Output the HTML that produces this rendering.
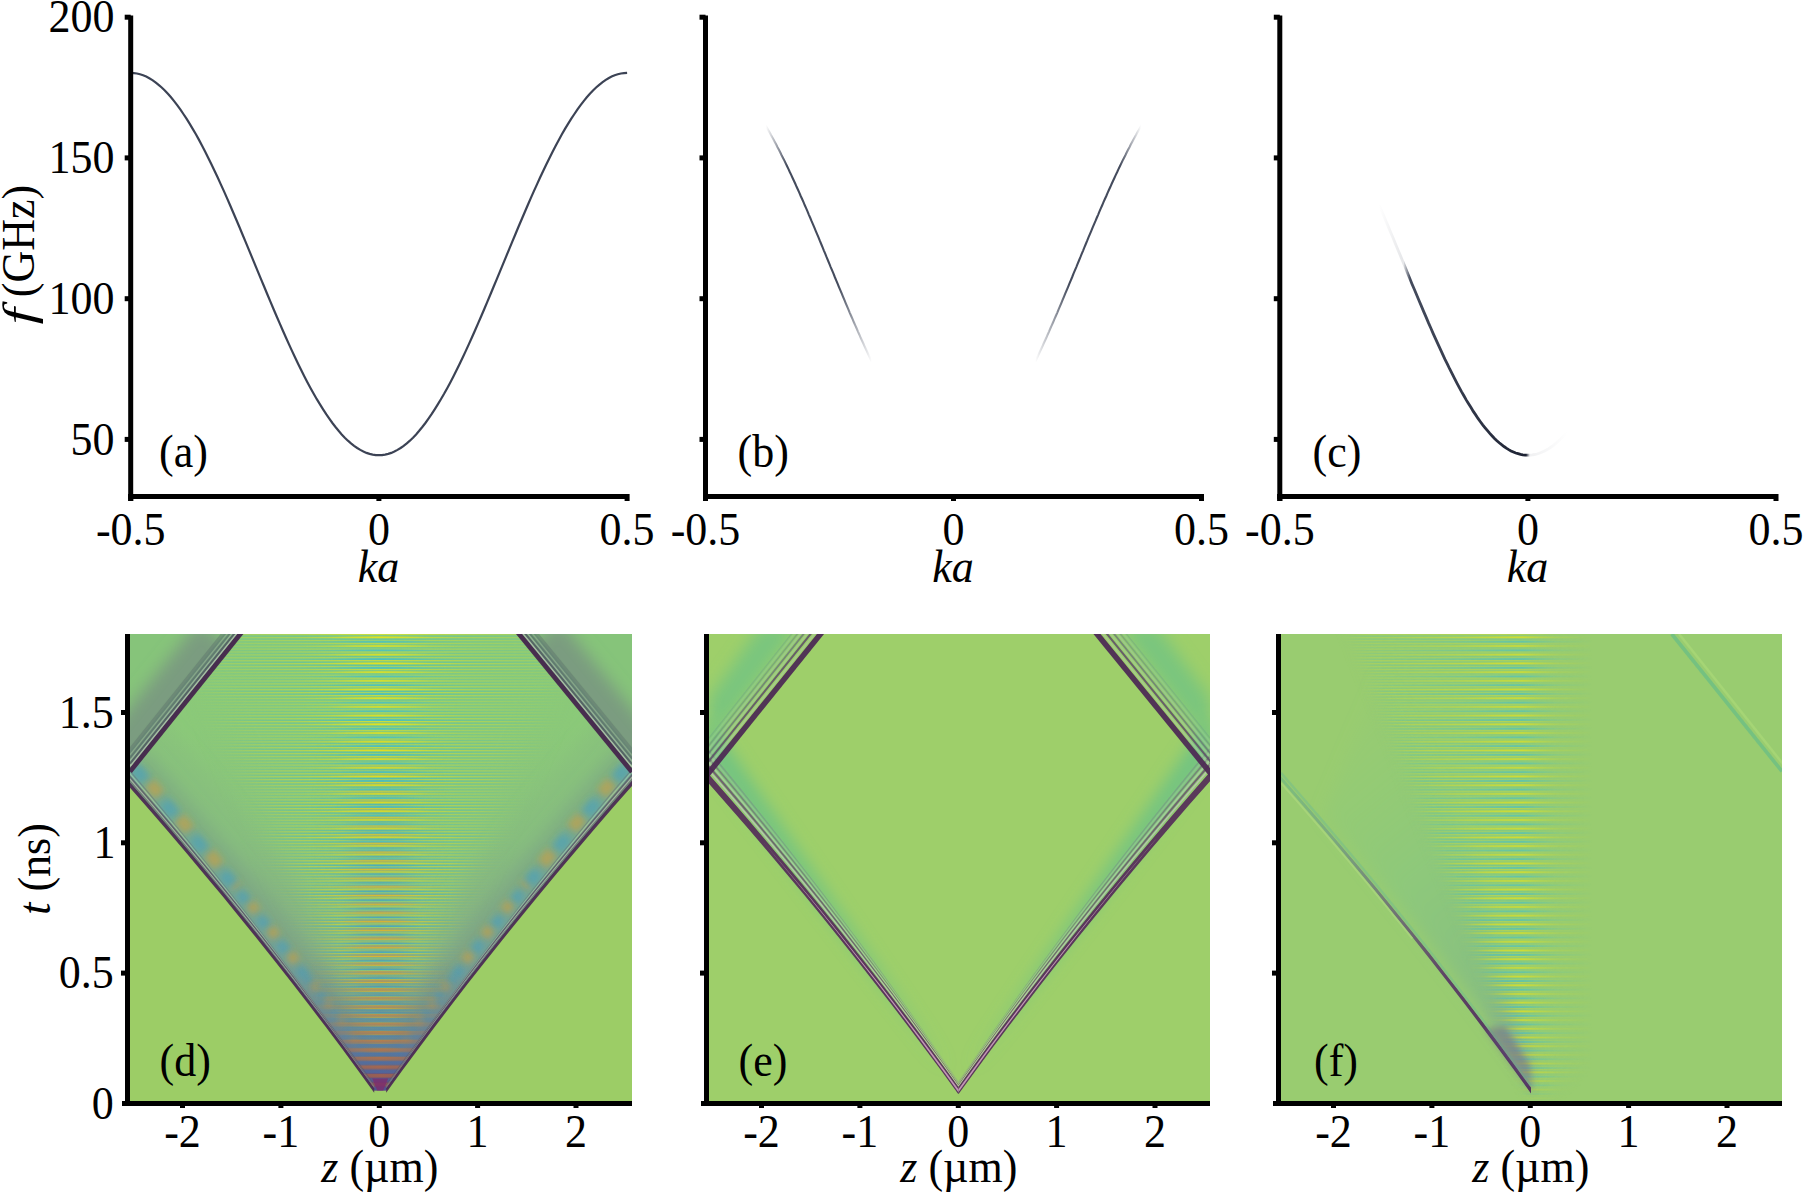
<!DOCTYPE html>
<html><head><meta charset="utf-8"><title>Figure</title>
<style>html,body{margin:0;padding:0;background:#fff}svg{display:block}</style></head>
<body>
<svg width="1804" height="1194" viewBox="0 0 1804 1194">
<defs>
<linearGradient id="gbL" gradientUnits="userSpaceOnUse" x1="766.0" y1="0.0" x2="871.7" y2="0.0"><stop offset="0" stop-color="#2b3347" stop-opacity="0"/><stop offset="0.2" stop-color="#2b3347" stop-opacity="0.88"/><stop offset="0.68" stop-color="#2b3347" stop-opacity="0.88"/><stop offset="1" stop-color="#2b3347" stop-opacity="0"/></linearGradient>
<linearGradient id="gbR" gradientUnits="userSpaceOnUse" x1="1141.0" y1="0.0" x2="1035.3" y2="0.0"><stop offset="0" stop-color="#2b3347" stop-opacity="0"/><stop offset="0.2" stop-color="#2b3347" stop-opacity="0.88"/><stop offset="0.68" stop-color="#2b3347" stop-opacity="0.88"/><stop offset="1" stop-color="#2b3347" stop-opacity="0"/></linearGradient>
<linearGradient id="gc" gradientUnits="userSpaceOnUse" x1="1379.0" y1="0.0" x2="1567.6" y2="0.0"><stop offset="0" stop-color="#2b3347" stop-opacity="0"/><stop offset="0.13" stop-color="#2b3347" stop-opacity="0.12"/><stop offset="0.165" stop-color="#2b3347" stop-opacity="0.88"/><stop offset="0.78" stop-color="#1d2233" stop-opacity="1"/><stop offset="0.8" stop-color="#2b3347" stop-opacity="0.07"/><stop offset="1" stop-color="#2b3347" stop-opacity="0"/></linearGradient>
<pattern id="frf" patternUnits="userSpaceOnUse" x="0" y="634" width="20" height="2.9"><rect x="0" y="0" width="20" height="1.45" fill="#d9e22e"/><rect x="0" y="1.45" width="20" height="1.45" fill="#52c0ae"/></pattern>
<pattern id="frb" patternUnits="userSpaceOnUse" x="0" y="636" width="20" height="8.7"><rect x="0" y="0" width="20" height="2.2" fill="#f0e410"/><rect x="0" y="4.35" width="20" height="2.0" fill="#35bedc"/></pattern>
<pattern id="fro" patternUnits="userSpaceOnUse" x="0" y="635.5" width="20" height="8.6"><rect x="0" y="0" width="20" height="3.4" fill="#f08a20"/><rect x="0" y="4.3" width="20" height="3.4" fill="#2f8fd8"/></pattern>
<filter id="bl1" x="-30%" y="-30%" width="160%" height="160%"><feGaussianBlur stdDeviation="0.7"/></filter>
<filter id="bl3" x="-30%" y="-30%" width="160%" height="160%"><feGaussianBlur stdDeviation="3"/></filter>
<filter id="bl8" x="-30%" y="-30%" width="160%" height="160%"><feGaussianBlur stdDeviation="8"/></filter>
<filter id="bl14" x="-30%" y="-30%" width="160%" height="160%"><feGaussianBlur stdDeviation="14"/></filter>
<clipPath id="cd"><rect x="130" y="634" width="502" height="467"/></clipPath>
<clipPath id="cdcone"><polygon points="374.2,1090.5 358.4,1068.7 342.3,1046.9 326.0,1025.0 309.4,1003.2 292.6,981.4 275.5,959.6 258.2,937.8 240.6,915.9 222.8,894.1 204.7,872.3 186.4,850.5 167.9,828.7 149.1,806.8 130.0,785.0 130,634 632,634 632.0,783.2 612.8,805.2 593.9,827.1 575.2,849.1 556.8,871.0 538.6,893.0 520.6,914.9 503.0,936.9 485.5,958.8 468.3,980.8 451.4,1002.7 434.7,1024.7 418.3,1046.6 402.1,1068.6 386.2,1090.5"/></clipPath>
<clipPath id="cdTL"><polygon points="130,771.5 240.3,634 130,634"/></clipPath>
<clipPath id="cdTR"><polygon points="632,772.0 519.1,634 632,634"/></clipPath>
<linearGradient id="gdint" gradientUnits="userSpaceOnUse" x1="0" y1="1090.5" x2="0" y2="634"><stop offset="0" stop-color="#775580"/><stop offset="0.07" stop-color="#7b7488"/><stop offset="0.16" stop-color="#80968a"/><stop offset="0.32" stop-color="#86ae86"/><stop offset="0.55" stop-color="#89c27d"/><stop offset="0.8" stop-color="#8bc979"/><stop offset="1" stop-color="#8bca78"/></linearGradient>
<linearGradient id="gdh1" gradientUnits="userSpaceOnUse" x1="150.2" y1="0" x2="610.2" y2="0"><stop offset="0.000" stop-color="#fff" stop-opacity="0"/><stop offset="0.196" stop-color="#fff" stop-opacity="0.25"/><stop offset="0.326" stop-color="#fff" stop-opacity="0.45"/><stop offset="0.424" stop-color="#fff" stop-opacity="0.7"/><stop offset="0.500" stop-color="#fff" stop-opacity="0.85"/><stop offset="0.576" stop-color="#fff" stop-opacity="0.7"/><stop offset="0.674" stop-color="#fff" stop-opacity="0.45"/><stop offset="0.804" stop-color="#fff" stop-opacity="0.25"/><stop offset="1.000" stop-color="#fff" stop-opacity="0"/></linearGradient>
<linearGradient id="gdh2" gradientUnits="userSpaceOnUse" x1="300.2" y1="0" x2="460.2" y2="0"><stop offset="0.000" stop-color="#fff" stop-opacity="0"/><stop offset="0.188" stop-color="#fff" stop-opacity="0.12"/><stop offset="0.344" stop-color="#fff" stop-opacity="0.42"/><stop offset="0.500" stop-color="#fff" stop-opacity="0.62"/><stop offset="0.656" stop-color="#fff" stop-opacity="0.42"/><stop offset="0.812" stop-color="#fff" stop-opacity="0.12"/><stop offset="1.000" stop-color="#fff" stop-opacity="0"/></linearGradient>
<linearGradient id="gdh3" gradientUnits="userSpaceOnUse" x1="310.2" y1="0" x2="450.2" y2="0"><stop offset="0.000" stop-color="#fff" stop-opacity="0"/><stop offset="0.214" stop-color="#fff" stop-opacity="0.25"/><stop offset="0.371" stop-color="#fff" stop-opacity="0.8"/><stop offset="0.500" stop-color="#fff" stop-opacity="1"/><stop offset="0.629" stop-color="#fff" stop-opacity="0.8"/><stop offset="0.786" stop-color="#fff" stop-opacity="0.25"/><stop offset="1.000" stop-color="#fff" stop-opacity="0"/></linearGradient>
<mask id="mdh1" maskUnits="userSpaceOnUse" x="130" y="634" width="502" height="467"><rect x="130" y="634" width="502" height="467" fill="url(#gdh1)"/></mask>
<mask id="mdh2" maskUnits="userSpaceOnUse" x="130" y="634" width="502" height="467"><rect x="130" y="634" width="502" height="467" fill="url(#gdh2)"/></mask>
<mask id="mdh3" maskUnits="userSpaceOnUse" x="130" y="634" width="502" height="467"><rect x="130" y="634" width="502" height="467" fill="url(#gdh3)"/></mask>
<mask id="mdw" maskUnits="userSpaceOnUse" x="130" y="634" width="502" height="467"><polygon points="374.2,1060.5 165.2,604 595.2,604 386.2,1060.5" fill="#fff" filter="url(#bl14)"/></mask>
<linearGradient id="gdo" gradientUnits="userSpaceOnUse" x1="0" y1="1090.5" x2="0" y2="730.5"><stop offset="0" stop-color="#fff" stop-opacity="0.85"/><stop offset="0.45" stop-color="#fff" stop-opacity="0.5"/><stop offset="1" stop-color="#fff" stop-opacity="0"/></linearGradient>
<mask id="mdo" maskUnits="userSpaceOnUse" x="130" y="634" width="502" height="467"><rect x="130" y="634" width="502" height="467" fill="url(#gdo)"/></mask>
<linearGradient id="gdap" gradientUnits="userSpaceOnUse" x1="0" y1="1090.5" x2="0" y2="960.5"><stop offset="0" stop-color="#5c3468" stop-opacity="0.6"/><stop offset="0.35" stop-color="#6a5078" stop-opacity="0.35"/><stop offset="1" stop-color="#70708a" stop-opacity="0"/></linearGradient>
<clipPath id="ce"><rect x="709" y="634" width="501" height="467"/></clipPath>
<clipPath id="cf"><rect x="1281" y="634" width="501" height="467"/></clipPath>
<linearGradient id="gfl" gradientUnits="userSpaceOnUse" x1="1531.0" y1="1090.5" x2="1281" y2="778.4"><stop offset="0" stop-color="#50305a" stop-opacity="1"/><stop offset="0.35" stop-color="#5a3c64" stop-opacity="0.95"/><stop offset="0.6" stop-color="#6a6a78" stop-opacity="0.8"/><stop offset="0.8" stop-color="#6e9a84" stop-opacity="0.7"/><stop offset="1" stop-color="#70b884" stop-opacity="0.65"/></linearGradient>
<linearGradient id="gfh" gradientUnits="userSpaceOnUse" x1="1531.0" y1="1090.5" x2="1281" y2="778.4"><stop offset="0" stop-color="#7a7aa0" stop-opacity="0.7"/><stop offset="0.25" stop-color="#7ab48c" stop-opacity="0.6"/><stop offset="0.6" stop-color="#80c488" stop-opacity="0.45"/><stop offset="1" stop-color="#86c880" stop-opacity="0.1"/></linearGradient>
<linearGradient id="gff1" gradientUnits="userSpaceOnUse" x1="1251.0" y1="0" x2="1586.0" y2="0"><stop offset="0.000" stop-color="#fff" stop-opacity="0"/><stop offset="0.299" stop-color="#fff" stop-opacity="0.2"/><stop offset="0.657" stop-color="#fff" stop-opacity="0.36"/><stop offset="0.800" stop-color="#fff" stop-opacity="0.4"/><stop offset="0.851" stop-color="#fff" stop-opacity="0.2"/><stop offset="0.910" stop-color="#fff" stop-opacity="0.08"/><stop offset="1.000" stop-color="#fff" stop-opacity="0"/></linearGradient>
<linearGradient id="gff2" gradientUnits="userSpaceOnUse" x1="1381.0" y1="0" x2="1593.0" y2="0"><stop offset="0.000" stop-color="#fff" stop-opacity="0"/><stop offset="0.377" stop-color="#fff" stop-opacity="0.2"/><stop offset="0.604" stop-color="#fff" stop-opacity="0.45"/><stop offset="0.670" stop-color="#fff" stop-opacity="0.5"/><stop offset="0.736" stop-color="#fff" stop-opacity="0.3"/><stop offset="0.830" stop-color="#fff" stop-opacity="0.12"/><stop offset="1.000" stop-color="#fff" stop-opacity="0"/></linearGradient>
<mask id="mff1" maskUnits="userSpaceOnUse" x="1281" y="634" width="501" height="467"><rect x="1281" y="634" width="501" height="467" fill="url(#gff1)"/></mask>
<mask id="mff2" maskUnits="userSpaceOnUse" x="1281" y="634" width="501" height="467"><rect x="1281" y="634" width="501" height="467" fill="url(#gff2)"/></mask>
<mask id="mfw" maskUnits="userSpaceOnUse" x="1281" y="634" width="501" height="467"><polygon points="1537.0,1096.5 1341.0,604 1651.0,604 1651.0,1030.5" fill="#fff" filter="url(#bl8)"/></mask>
</defs>
<rect width="1804" height="1194" fill="#fff"/>
<path d="M130.7,72.9 L133.8,73.1 L136.9,73.5 L140.0,74.3 L143.1,75.3 L146.2,76.6 L149.3,78.2 L152.4,80.1 L155.5,82.3 L158.6,84.8 L161.7,87.5 L164.8,90.5 L167.9,93.8 L171.0,97.3 L174.1,101.1 L177.2,105.1 L180.3,109.4 L183.4,114.0 L186.5,118.7 L189.6,123.7 L192.7,128.9 L195.9,134.3 L199.0,139.9 L202.1,145.7 L205.2,151.7 L208.3,157.9 L211.4,164.2 L214.5,170.7 L217.6,177.3 L220.7,184.1 L223.8,190.9 L226.9,197.9 L230.0,205.0 L233.1,212.2 L236.2,219.5 L239.3,226.8 L242.4,234.2 L245.5,241.6 L248.6,249.1 L251.7,256.6 L254.8,264.1 L257.9,271.6 L261.0,279.1 L264.1,286.5 L267.2,294.0 L270.3,301.4 L273.4,308.7 L276.5,316.0 L279.6,323.1 L282.7,330.2 L285.8,337.2 L288.9,344.1 L292.0,350.9 L295.1,357.5 L298.2,363.9 L301.3,370.3 L304.4,376.4 L307.5,382.4 L310.6,388.2 L313.7,393.8 L316.8,399.2 L320.0,404.4 L323.1,409.4 L326.2,414.2 L329.3,418.7 L332.4,423.0 L335.5,427.0 L338.6,430.8 L341.7,434.4 L344.8,437.7 L347.9,440.7 L351.0,443.4 L354.1,445.9 L357.2,448.0 L360.3,449.9 L363.4,451.5 L366.5,452.9 L369.6,453.9 L372.7,454.6 L375.8,455.1 L378.9,455.2 L382.0,455.1 L385.1,454.6 L388.2,453.9 L391.3,452.9 L394.4,451.5 L397.5,449.9 L400.6,448.0 L403.7,445.9 L406.8,443.4 L409.9,440.7 L413.0,437.7 L416.1,434.4 L419.2,430.8 L422.3,427.0 L425.4,423.0 L428.5,418.7 L431.6,414.2 L434.7,409.4 L437.8,404.4 L440.9,399.2 L444.1,393.8 L447.2,388.2 L450.3,382.4 L453.4,376.4 L456.5,370.3 L459.6,363.9 L462.7,357.5 L465.8,350.9 L468.9,344.1 L472.0,337.2 L475.1,330.2 L478.2,323.1 L481.3,316.0 L484.4,308.7 L487.5,301.4 L490.6,294.0 L493.7,286.5 L496.8,279.1 L499.9,271.6 L503.0,264.1 L506.1,256.6 L509.2,249.1 L512.3,241.6 L515.4,234.2 L518.5,226.8 L521.6,219.5 L524.7,212.2 L527.8,205.0 L530.9,197.9 L534.0,190.9 L537.1,184.1 L540.2,177.3 L543.3,170.7 L546.4,164.2 L549.5,157.9 L552.6,151.7 L555.7,145.7 L558.8,139.9 L561.9,134.3 L565.0,128.9 L568.2,123.7 L571.3,118.7 L574.4,114.0 L577.5,109.4 L580.6,105.1 L583.7,101.1 L586.8,97.3 L589.9,93.8 L593.0,90.5 L596.1,87.5 L599.2,84.8 L602.3,82.3 L605.4,80.1 L608.5,78.2 L611.6,76.6 L614.7,75.3 L617.8,74.3 L620.9,73.5 L624.0,73.1 L627.1,72.9" fill="none" stroke="#2b3347" stroke-width="2.2" stroke-opacity="0.92"/>
<path d="M762.5,120.7 L763.9,122.9 L765.3,125.2 L766.6,127.4 L768.0,129.8 L769.4,132.1 L770.7,134.6 L772.1,137.0 L773.5,139.5 L774.8,142.0 L776.2,144.6 L777.5,147.2 L778.9,149.8 L780.3,152.5 L781.6,155.2 L783.0,157.9 L784.4,160.6 L785.7,163.4 L787.1,166.3 L788.5,169.1 L789.8,172.0 L791.2,174.9 L792.5,177.8 L793.9,180.8 L795.3,183.8 L796.6,186.8 L798.0,189.8 L799.4,192.9 L800.7,196.0 L802.1,199.0 L803.5,202.2 L804.8,205.3 L806.2,208.4 L807.6,211.6 L808.9,214.8 L810.3,218.0 L811.6,221.2 L813.0,224.4 L814.4,227.7 L815.7,230.9 L817.1,234.2 L818.5,237.4 L819.8,240.7 L821.2,244.0 L822.6,247.3 L823.9,250.6 L825.3,253.9 L826.6,257.2 L828.0,260.5 L829.4,263.8 L830.7,267.1 L832.1,270.4 L833.5,273.7 L834.8,277.0 L836.2,280.3 L837.6,283.6 L838.9,286.8 L840.3,290.1 L841.7,293.4 L843.0,296.6 L844.4,299.9 L845.7,303.1 L847.1,306.4 L848.5,309.6 L849.8,312.8 L851.2,316.0 L852.6,319.1 L853.9,322.3 L855.3,325.4 L856.7,328.5 L858.0,331.6 L859.4,334.7 L860.7,337.8 L862.1,340.8 L863.5,343.8 L864.8,346.8 L866.2,349.8 L867.6,352.7 L868.9,355.6 L870.3,358.5 L871.7,361.4" fill="none" stroke="url(#gbL)" stroke-width="2.1"/>
<path d="M1035.3,361.4 L1036.7,358.5 L1038.1,355.6 L1039.4,352.7 L1040.8,349.8 L1042.2,346.8 L1043.5,343.8 L1044.9,340.8 L1046.3,337.8 L1047.6,334.7 L1049.0,331.6 L1050.3,328.5 L1051.7,325.4 L1053.1,322.3 L1054.4,319.1 L1055.8,316.0 L1057.2,312.8 L1058.5,309.6 L1059.9,306.4 L1061.3,303.1 L1062.6,299.9 L1064.0,296.6 L1065.3,293.4 L1066.7,290.1 L1068.1,286.8 L1069.4,283.6 L1070.8,280.3 L1072.2,277.0 L1073.5,273.7 L1074.9,270.4 L1076.3,267.1 L1077.6,263.8 L1079.0,260.5 L1080.4,257.2 L1081.7,253.9 L1083.1,250.6 L1084.4,247.3 L1085.8,244.0 L1087.2,240.7 L1088.5,237.4 L1089.9,234.2 L1091.3,230.9 L1092.6,227.7 L1094.0,224.4 L1095.4,221.2 L1096.7,218.0 L1098.1,214.8 L1099.4,211.6 L1100.8,208.4 L1102.2,205.3 L1103.5,202.2 L1104.9,199.0 L1106.3,196.0 L1107.6,192.9 L1109.0,189.8 L1110.4,186.8 L1111.7,183.8 L1113.1,180.8 L1114.5,177.8 L1115.8,174.9 L1117.2,172.0 L1118.5,169.1 L1119.9,166.3 L1121.3,163.4 L1122.6,160.6 L1124.0,157.9 L1125.4,155.2 L1126.7,152.5 L1128.1,149.8 L1129.5,147.2 L1130.8,144.6 L1132.2,142.0 L1133.5,139.5 L1134.9,137.0 L1136.3,134.6 L1137.6,132.1 L1139.0,129.8 L1140.4,127.4 L1141.7,125.2 L1143.1,122.9 L1144.5,120.7" fill="none" stroke="url(#gbR)" stroke-width="2.1"/>
<path d="M1379.0,205.0 L1381.4,210.5 L1383.8,216.0 L1386.1,221.5 L1388.5,227.1 L1390.8,232.7 L1393.2,238.3 L1395.5,244.0 L1397.9,249.7 L1400.3,255.4 L1402.6,261.1 L1405.0,266.8 L1407.3,272.5 L1409.7,278.2 L1412.0,283.9 L1414.4,289.5 L1416.8,295.2 L1419.1,300.8 L1421.5,306.4 L1423.8,311.9 L1426.2,317.4 L1428.5,322.9 L1430.9,328.3 L1433.2,333.6 L1435.6,338.9 L1438.0,344.1 L1440.3,349.2 L1442.7,354.3 L1445.0,359.3 L1447.4,364.2 L1449.7,369.0 L1452.1,373.7 L1454.5,378.4 L1456.8,382.9 L1459.2,387.3 L1461.5,391.6 L1463.9,395.8 L1466.2,399.9 L1468.6,403.8 L1471.0,407.6 L1473.3,411.4 L1475.7,414.9 L1478.0,418.4 L1480.4,421.7 L1482.7,424.8 L1485.1,427.8 L1487.5,430.7 L1489.8,433.4 L1492.2,436.0 L1494.5,438.4 L1496.9,440.7 L1499.2,442.8 L1501.6,444.7 L1504.0,446.5 L1506.3,448.1 L1508.7,449.6 L1511.0,450.9 L1513.4,452.0 L1515.7,453.0 L1518.1,453.7 L1520.5,454.4 L1522.8,454.8 L1525.2,455.1 L1527.5,455.2 L1529.9,455.2 L1532.2,454.9 L1534.6,454.5 L1537.0,454.0 L1539.3,453.2 L1541.7,452.3 L1544.0,451.2 L1546.4,450.0 L1548.7,448.6 L1551.1,447.0 L1553.5,445.3 L1555.8,443.4 L1558.2,441.3 L1560.5,439.1 L1562.9,436.8 L1565.2,434.2 L1567.6,431.6" fill="none" stroke="url(#gc)" stroke-width="2.8"/>
<rect x="128.2" y="15.5" width="5" height="485.5" fill="#000"/>
<rect x="128.2" y="494" width="498.9" height="5" fill="#000"/>
<rect x="124.7" y="14.7" width="6" height="5" fill="#000"/>
<rect x="124.7" y="155.4" width="6" height="5" fill="#000"/>
<rect x="124.7" y="296.2" width="6" height="5" fill="#000"/>
<rect x="124.7" y="436.9" width="6" height="5" fill="#000"/>
<rect x="128.2" y="494" width="5" height="7" fill="#000"/>
<rect x="376.4" y="494" width="5" height="7" fill="#000"/>
<rect x="624.6" y="494" width="5" height="7" fill="#000"/>
<text transform="translate(130.7,545) scale(1,1.04)" x="0" y="0" text-anchor="middle" font-family="'Liberation Serif', 'Times New Roman', serif" font-size="44">-0.5</text>
<text transform="translate(378.9,545) scale(1,1.04)" x="0" y="0" text-anchor="middle" font-family="'Liberation Serif', 'Times New Roman', serif" font-size="44">0</text>
<text transform="translate(627.1,545) scale(1,1.04)" x="0" y="0" text-anchor="middle" font-family="'Liberation Serif', 'Times New Roman', serif" font-size="44">0.5</text>
<text transform="translate(378.4,581.5) scale(1,1.04)" x="0" y="0" text-anchor="middle" font-family="'Liberation Serif', 'Times New Roman', serif" font-size="44" font-style="italic">ka</text>
<text transform="translate(159,467) scale(1,1.04)" x="0" y="0" font-family="'Liberation Serif', 'Times New Roman', serif" font-size="44">(a)</text>
<rect x="703.0" y="15.5" width="5" height="485.5" fill="#000"/>
<rect x="703.0" y="494" width="498.5" height="5" fill="#000"/>
<rect x="699.5" y="14.7" width="6" height="5" fill="#000"/>
<rect x="699.5" y="155.4" width="6" height="5" fill="#000"/>
<rect x="699.5" y="296.2" width="6" height="5" fill="#000"/>
<rect x="699.5" y="436.9" width="6" height="5" fill="#000"/>
<rect x="703.0" y="494" width="5" height="7" fill="#000"/>
<rect x="951.0" y="494" width="5" height="7" fill="#000"/>
<rect x="1199.0" y="494" width="5" height="7" fill="#000"/>
<text transform="translate(705.5,545) scale(1,1.04)" x="0" y="0" text-anchor="middle" font-family="'Liberation Serif', 'Times New Roman', serif" font-size="44">-0.5</text>
<text transform="translate(953.5,545) scale(1,1.04)" x="0" y="0" text-anchor="middle" font-family="'Liberation Serif', 'Times New Roman', serif" font-size="44">0</text>
<text transform="translate(1201.5,545) scale(1,1.04)" x="0" y="0" text-anchor="middle" font-family="'Liberation Serif', 'Times New Roman', serif" font-size="44">0.5</text>
<text transform="translate(953.0,581.5) scale(1,1.04)" x="0" y="0" text-anchor="middle" font-family="'Liberation Serif', 'Times New Roman', serif" font-size="44" font-style="italic">ka</text>
<text transform="translate(737.5,467) scale(1,1.04)" x="0" y="0" font-family="'Liberation Serif', 'Times New Roman', serif" font-size="44">(b)</text>
<rect x="1277.3" y="15.5" width="5" height="485.5" fill="#000"/>
<rect x="1277.3" y="494" width="498.7" height="5" fill="#000"/>
<rect x="1273.8" y="14.7" width="6" height="5" fill="#000"/>
<rect x="1273.8" y="155.4" width="6" height="5" fill="#000"/>
<rect x="1273.8" y="296.2" width="6" height="5" fill="#000"/>
<rect x="1273.8" y="436.9" width="6" height="5" fill="#000"/>
<rect x="1277.3" y="494" width="5" height="7" fill="#000"/>
<rect x="1525.4" y="494" width="5" height="7" fill="#000"/>
<rect x="1773.5" y="494" width="5" height="7" fill="#000"/>
<text transform="translate(1279.8,545) scale(1,1.04)" x="0" y="0" text-anchor="middle" font-family="'Liberation Serif', 'Times New Roman', serif" font-size="44">-0.5</text>
<text transform="translate(1527.9,545) scale(1,1.04)" x="0" y="0" text-anchor="middle" font-family="'Liberation Serif', 'Times New Roman', serif" font-size="44">0</text>
<text transform="translate(1776.0,545) scale(1,1.04)" x="0" y="0" text-anchor="middle" font-family="'Liberation Serif', 'Times New Roman', serif" font-size="44">0.5</text>
<text transform="translate(1527.4,581.5) scale(1,1.04)" x="0" y="0" text-anchor="middle" font-family="'Liberation Serif', 'Times New Roman', serif" font-size="44" font-style="italic">ka</text>
<text transform="translate(1312.5,467) scale(1,1.04)" x="0" y="0" font-family="'Liberation Serif', 'Times New Roman', serif" font-size="44">(c)</text>
<text transform="translate(114.5,32.4) scale(1,1.04)" x="0" y="0" text-anchor="end" font-family="'Liberation Serif', 'Times New Roman', serif" font-size="44">200</text>
<text transform="translate(114.5,173.1) scale(1,1.04)" x="0" y="0" text-anchor="end" font-family="'Liberation Serif', 'Times New Roman', serif" font-size="44">150</text>
<text transform="translate(114.5,313.9) scale(1,1.04)" x="0" y="0" text-anchor="end" font-family="'Liberation Serif', 'Times New Roman', serif" font-size="44">100</text>
<text transform="translate(114.5,454.6) scale(1,1.04)" x="0" y="0" text-anchor="end" font-family="'Liberation Serif', 'Times New Roman', serif" font-size="44">50</text>
<text transform="translate(33.5,324.6) rotate(-90) scale(1.35,1)" font-family="'Liberation Serif', 'Times New Roman', serif" font-size="44" font-style="italic">f</text>
<text transform="translate(33.5,297.2) rotate(-90) scale(1,1.04)" font-family="'Liberation Serif', 'Times New Roman', serif" font-size="44">(GHz)</text>
<rect x="130" y="634" width="502" height="467" fill="#9ccd66"/>
<rect x="709" y="634" width="501" height="467" fill="#9ecf6a"/>
<rect x="1281" y="634" width="501" height="467" fill="#99cc70"/>
<g clip-path="url(#cd)">
<polygon points="374.2,1090.5 358.4,1068.7 342.3,1046.9 326.0,1025.0 309.4,1003.2 292.6,981.4 275.5,959.6 258.2,937.8 240.6,915.9 222.8,894.1 204.7,872.3 186.4,850.5 167.9,828.7 149.1,806.8 130.0,785.0 130,634 632,634 632.0,783.2 612.8,805.2 593.9,827.1 575.2,849.1 556.8,871.0 538.6,893.0 520.6,914.9 503.0,936.9 485.5,958.8 468.3,980.8 451.4,1002.7 434.7,1024.7 418.3,1046.6 402.1,1068.6 386.2,1090.5" fill="url(#gdint)" fill-opacity="1" />
<g clip-path="url(#cdcone)">
<path d="M374.2,1068.5 L358.4,1046.7 L342.3,1024.9 L326.0,1003.0 L309.4,981.2 L292.6,959.4 L275.5,937.6 L258.2,915.8 L240.6,893.9 L222.8,872.1 L204.7,850.3 L186.4,828.5 L167.9,806.7 L149.1,784.8 L130.0,763.0" fill="none" stroke="#6f8f8a" stroke-opacity="0.42" stroke-width="40" filter="url(#bl8)"/>
<path d="M374.2,1034.5 L358.4,1012.7 L342.3,990.9 L326.0,969.0 L309.4,947.2 L292.6,925.4 L275.5,903.6 L258.2,881.8 L240.6,859.9 L222.8,838.1 L204.7,816.3 L186.4,794.5 L167.9,772.7 L149.1,750.8 L130.0,729.0" fill="none" stroke="#7fb080" stroke-opacity="0.25" stroke-width="60" filter="url(#bl8)"/>
<path d="M365.4,1064.3 L350.0,1042.9 L334.5,1021.5 L318.7,1000.2 L302.7,978.8 L286.4,957.4 L270.0,936.0 L253.3,914.7 L236.3,893.3 L219.2,871.9 L201.8,850.5 L184.2,829.2 L166.4,807.8 L148.3,786.4 L130.0,765.0" fill="none" stroke="#5a9cb4" stroke-opacity="0.3" stroke-width="16" filter="url(#bl3)"/>
<path d="M363.1,1053.2 L359.2,1047.8 L355.2,1042.3 L351.2,1036.9 L347.1,1031.4 L343.1,1026.0 L339.0,1020.5 L335.0,1015.0 L330.9,1009.6 L326.8,1004.1 L322.7,998.7 L318.5,993.2 L314.4,987.8 L310.2,982.3 L306.0,976.9" fill="none" stroke="#3fa0c4" stroke-opacity="0.48" stroke-width="7.6" stroke-dasharray="7.5 14.5" filter="url(#bl3)"/>
<path d="M363.1,1051.2 L359.2,1045.8 L355.2,1040.3 L351.2,1034.9 L347.1,1029.4 L343.1,1024.0 L339.0,1018.5 L335.0,1013.0 L330.9,1007.6 L326.8,1002.1 L322.7,996.7 L318.5,991.2 L314.4,985.8 L310.2,980.3 L306.0,974.9" fill="none" stroke="#e3a02c" stroke-opacity="0.5" stroke-width="7.6" stroke-dasharray="7.5 14.5" stroke-dashoffset="-11.0" filter="url(#bl3)"/>
<path d="M306.0,976.9 L301.0,970.3 L295.9,963.8 L290.9,957.2 L285.8,950.7 L280.6,944.1 L275.5,937.6 L270.3,931.0 L265.1,924.5 L259.9,917.9 L254.7,911.4 L249.4,904.9 L244.1,898.3 L238.8,891.8 L233.5,885.2" fill="none" stroke="#3fa0c4" stroke-opacity="0.48" stroke-width="10.2" stroke-dasharray="10.9 21.1" filter="url(#bl3)"/>
<path d="M306.0,974.9 L301.0,968.3 L295.9,961.8 L290.9,955.2 L285.8,948.7 L280.6,942.1 L275.5,935.6 L270.3,929.0 L265.1,922.5 L259.9,915.9 L254.7,909.4 L249.4,902.9 L244.1,896.3 L238.8,889.8 L233.5,883.2" fill="none" stroke="#e3a02c" stroke-opacity="0.5" stroke-width="10.2" stroke-dasharray="10.9 21.1" stroke-dashoffset="-16.0" filter="url(#bl3)"/>
<path d="M233.5,885.2 L226.4,876.5 L219.2,867.8 L212.0,859.0 L204.7,850.3 L197.4,841.6 L190.1,832.9 L182.7,824.1 L175.3,815.4 L167.9,806.7 L160.4,797.9 L152.8,789.2 L145.3,780.5 L137.7,771.8 L130.0,763.0" fill="none" stroke="#3fa0c4" stroke-opacity="0.48" stroke-width="12.8" stroke-dasharray="15.6 30.4" filter="url(#bl3)"/>
<path d="M233.5,883.2 L226.4,874.5 L219.2,865.8 L212.0,857.0 L204.7,848.3 L197.4,839.6 L190.1,830.9 L182.7,822.1 L175.3,813.4 L167.9,804.7 L160.4,795.9 L152.8,787.2 L145.3,778.5 L137.7,769.8 L130.0,761.0" fill="none" stroke="#e3a02c" stroke-opacity="0.5" stroke-width="12.8" stroke-dasharray="15.6 30.4" stroke-dashoffset="-23.0" filter="url(#bl3)"/>
<path d="M386.2,1068.5 L402.1,1046.6 L418.3,1024.6 L434.7,1002.7 L451.4,980.7 L468.3,958.8 L485.5,936.8 L503.0,914.9 L520.6,892.9 L538.6,871.0 L556.8,849.0 L575.2,827.1 L593.9,805.1 L612.8,783.2 L632.0,761.2" fill="none" stroke="#6f8f8a" stroke-opacity="0.42" stroke-width="40" filter="url(#bl8)"/>
<path d="M386.2,1034.5 L402.1,1012.6 L418.3,990.6 L434.7,968.7 L451.4,946.7 L468.3,924.8 L485.5,902.8 L503.0,880.9 L520.6,858.9 L538.6,837.0 L556.8,815.0 L575.2,793.1 L593.9,771.1 L612.8,749.2 L632.0,727.2" fill="none" stroke="#7fb080" stroke-opacity="0.25" stroke-width="60" filter="url(#bl8)"/>
<path d="M395.1,1064.2 L410.5,1042.7 L426.2,1021.2 L442.0,999.7 L458.2,978.2 L474.5,956.7 L491.1,935.2 L507.9,913.7 L524.9,892.2 L542.2,870.7 L559.7,849.2 L577.4,827.7 L595.4,806.2 L613.6,784.7 L632.0,763.2" fill="none" stroke="#5a9cb4" stroke-opacity="0.3" stroke-width="16" filter="url(#bl3)"/>
<path d="M397.3,1053.1 L401.3,1047.6 L405.3,1042.2 L409.4,1036.7 L413.4,1031.2 L417.5,1025.7 L421.6,1020.2 L425.7,1014.7 L429.8,1009.2 L433.9,1003.7 L438.1,998.3 L442.2,992.8 L446.4,987.3 L450.6,981.8 L454.8,976.3" fill="none" stroke="#3fa0c4" stroke-opacity="0.48" stroke-width="7.6" stroke-dasharray="7.5 14.5" filter="url(#bl3)"/>
<path d="M397.3,1051.1 L401.3,1045.6 L405.3,1040.2 L409.4,1034.7 L413.4,1029.2 L417.5,1023.7 L421.6,1018.2 L425.7,1012.7 L429.8,1007.2 L433.9,1001.7 L438.1,996.3 L442.2,990.8 L446.4,985.3 L450.6,979.8 L454.8,974.3" fill="none" stroke="#e3a02c" stroke-opacity="0.5" stroke-width="7.6" stroke-dasharray="7.5 14.5" stroke-dashoffset="-11.0" filter="url(#bl3)"/>
<path d="M454.8,976.3 L459.9,969.7 L464.9,963.1 L470.1,956.6 L475.2,950.0 L480.3,943.4 L485.5,936.8 L490.7,930.2 L496.0,923.6 L501.2,917.0 L506.5,910.5 L511.8,903.9 L517.1,897.3 L522.4,890.7 L527.8,884.1" fill="none" stroke="#3fa0c4" stroke-opacity="0.48" stroke-width="10.2" stroke-dasharray="10.9 21.1" filter="url(#bl3)"/>
<path d="M454.8,974.3 L459.9,967.7 L464.9,961.1 L470.1,954.6 L475.2,948.0 L480.3,941.4 L485.5,934.8 L490.7,928.2 L496.0,921.6 L501.2,915.0 L506.5,908.5 L511.8,901.9 L517.1,895.3 L522.4,888.7 L527.8,882.1" fill="none" stroke="#e3a02c" stroke-opacity="0.5" stroke-width="10.2" stroke-dasharray="10.9 21.1" stroke-dashoffset="-16.0" filter="url(#bl3)"/>
<path d="M527.8,884.1 L535.0,875.3 L542.2,866.6 L549.5,857.8 L556.8,849.0 L564.1,840.2 L571.5,831.4 L578.9,822.7 L586.4,813.9 L593.9,805.1 L601.4,796.3 L609.0,787.5 L616.6,778.8 L624.3,770.0 L632.0,761.2" fill="none" stroke="#3fa0c4" stroke-opacity="0.48" stroke-width="12.8" stroke-dasharray="15.6 30.4" filter="url(#bl3)"/>
<path d="M527.8,882.1 L535.0,873.3 L542.2,864.6 L549.5,855.8 L556.8,847.0 L564.1,838.2 L571.5,829.4 L578.9,820.7 L586.4,811.9 L593.9,803.1 L601.4,794.3 L609.0,785.5 L616.6,776.8 L624.3,768.0 L632.0,759.2" fill="none" stroke="#e3a02c" stroke-opacity="0.5" stroke-width="12.8" stroke-dasharray="15.6 30.4" stroke-dashoffset="-23.0" filter="url(#bl3)"/>
<g mask="url(#mdw)"><g mask="url(#mdh1)"><rect x="130" y="634" width="502" height="467" fill="url(#frf)"/></g>
<g mask="url(#mdh2)"><rect x="130" y="634" width="502" height="467" fill="url(#frb)"/></g></g>
<g mask="url(#mdo)"><g mask="url(#mdh3)"><rect x="130" y="634" width="502" height="467" fill="url(#fro)" filter="url(#bl1)"/></g></g>
<rect x="260.2" y="960.5" width="240" height="131" fill="url(#gdap)"/>
</g>
<g clip-path="url(#cdTL)">
<rect x="130" y="634" width="502" height="467" fill="#86c47a"/>
<line x1="104" y1="771.5" x2="214.3" y2="634" stroke="#778f82" stroke-opacity="0.75" stroke-width="40" filter="url(#bl8)"/>
<line x1="128" y1="741.5" x2="128" y2="621.5" stroke="#6fb0a0" stroke-opacity="0.5" stroke-width="40" filter="url(#bl8)"/>
</g>
<g clip-path="url(#cdTR)">
<rect x="130" y="634" width="502" height="467" fill="#86c47a"/>
<line x1="658" y1="772.0" x2="545.1" y2="634" stroke="#778f82" stroke-opacity="0.75" stroke-width="40" filter="url(#bl8)"/>
<line x1="634" y1="742.0" x2="634" y2="622.0" stroke="#6fb0a0" stroke-opacity="0.5" stroke-width="40" filter="url(#bl8)"/>
</g>
<polygon points="374.2,1088.3 358.4,1066.4 342.3,1044.6 326.0,1022.7 309.4,1000.9 292.6,979.0 275.5,957.2 258.2,935.3 240.6,913.5 222.8,891.6 204.7,869.7 186.4,847.9 167.9,826.0 149.1,804.2 130.0,782.3 130.0,787.7 149.1,809.5 167.9,831.3 186.4,853.1 204.7,874.9 222.8,896.6 240.6,918.4 258.2,940.2 275.5,962.0 292.6,983.8 309.4,1005.6 326.0,1027.3 342.3,1049.1 358.4,1070.9 374.2,1092.7" fill="#4b2c54" fill-opacity="0.95" />
<polygon points="374.2,1084.0 358.4,1062.1 342.3,1040.1 326.0,1018.2 309.4,996.3 292.6,974.4 275.5,952.4 258.2,930.5 240.6,908.6 222.8,886.7 204.7,864.7 186.4,842.8 167.9,820.9 149.1,799.0 130.0,777.0 130.0,782.0 149.1,803.9 167.9,825.7 186.4,847.6 204.7,869.4 222.8,891.3 240.6,913.2 258.2,935.0 275.5,956.9 292.6,978.7 309.4,1000.6 326.0,1022.4 342.3,1044.3 358.4,1066.1 374.2,1088.0" fill="#5d5468" fill-opacity="0.5" />
<polygon points="374.2,1087.3 358.4,1065.2 342.3,1043.2 326.0,1021.1 309.4,999.0 292.6,977.0 275.5,954.9 258.2,932.8 240.6,910.7 222.8,888.7 204.7,866.6 186.4,844.5 167.9,822.5 149.1,800.4 130.0,778.3 130.0,780.1 149.1,802.1 167.9,824.1 186.4,846.0 204.7,868.0 222.8,890.0 240.6,911.9 258.2,933.9 275.5,955.9 292.6,977.9 309.4,999.8 326.0,1021.8 342.3,1043.8 358.4,1065.7 374.2,1087.7" fill="#c4d2b8" fill-opacity="0.65" />
<polygon points="374.2,1086.8 358.4,1064.6 342.3,1042.3 326.0,1020.1 309.4,997.9 292.6,975.7 275.5,953.4 258.2,931.2 240.6,909.0 222.8,886.8 204.7,864.5 186.4,842.3 167.9,820.1 149.1,797.9 130.0,775.6 130.0,777.6 149.1,799.7 167.9,821.9 186.4,844.0 204.7,866.1 222.8,888.2 240.6,910.3 258.2,932.4 275.5,954.5 292.6,976.6 309.4,998.8 326.0,1020.9 342.3,1043.0 358.4,1065.1 374.2,1087.2" fill="#585066" fill-opacity="0.75" />
<polygon points="374.2,1086.3 358.4,1064.0 342.3,1041.6 326.0,1019.2 309.4,996.8 292.6,974.4 275.5,952.0 258.2,929.6 240.6,907.2 222.8,884.8 204.7,862.4 186.4,840.1 167.9,817.7 149.1,795.3 130.0,772.9 130.0,774.4 149.1,796.7 167.9,819.0 186.4,841.3 204.7,863.6 222.8,885.9 240.6,908.2 258.2,930.5 275.5,952.8 292.6,975.1 309.4,997.4 326.0,1019.7 342.3,1042.0 358.4,1064.3 374.2,1086.7" fill="#b5cfae" fill-opacity="0.6" />
<polygon points="374.2,1085.8 358.4,1063.3 342.3,1040.8 326.0,1018.2 309.4,995.7 292.6,973.1 275.5,950.6 258.2,928.1 240.6,905.5 222.8,883.0 204.7,860.4 186.4,837.9 167.9,815.4 149.1,792.8 130.0,770.3 130.0,771.8 149.1,794.2 167.9,816.7 186.4,839.1 204.7,861.6 222.8,884.1 240.6,906.5 258.2,929.0 275.5,951.4 292.6,973.9 309.4,996.3 326.0,1018.8 342.3,1041.2 358.4,1063.7 374.2,1086.2" fill="#64707a" fill-opacity="0.55" />
<polygon points="386.2,1088.3 402.1,1066.3 418.3,1044.3 434.7,1022.3 451.4,1000.4 468.3,978.4 485.5,956.4 503.0,934.4 520.6,912.4 538.6,890.4 556.8,868.4 575.2,846.5 593.9,824.5 612.8,802.5 632.0,780.5 632.0,785.9 612.8,807.8 593.9,829.7 575.2,851.7 556.8,873.6 538.6,895.5 520.6,917.4 503.0,939.3 485.5,961.2 468.3,983.1 451.4,1005.0 434.7,1027.0 418.3,1048.9 402.1,1070.8 386.2,1092.7" fill="#4b2c54" fill-opacity="0.95" />
<polygon points="386.2,1084.0 402.1,1061.9 418.3,1039.9 434.7,1017.8 451.4,995.8 468.3,973.7 485.5,951.7 503.0,929.6 520.6,907.5 538.6,885.5 556.8,863.4 575.2,841.4 593.9,819.3 612.8,797.3 632.0,775.2 632.0,780.2 612.8,802.2 593.9,824.2 575.2,846.2 556.8,868.1 538.6,890.1 520.6,912.1 503.0,934.1 485.5,956.1 468.3,978.1 451.4,1000.1 434.7,1022.0 418.3,1044.0 402.1,1066.0 386.2,1088.0" fill="#5d5468" fill-opacity="0.5" />
<polygon points="386.2,1087.3 402.1,1065.1 418.3,1042.9 434.7,1020.7 451.4,998.5 468.3,976.3 485.5,954.1 503.0,931.9 520.6,909.7 538.6,887.5 556.8,865.3 575.2,843.1 593.9,820.9 612.8,798.7 632.0,776.5 632.0,778.3 612.8,800.4 593.9,822.5 575.2,844.6 556.8,866.7 538.6,888.8 520.6,910.9 503.0,933.0 485.5,955.1 468.3,977.2 451.4,999.3 434.7,1021.4 418.3,1043.5 402.1,1065.6 386.2,1087.7" fill="#c4d2b8" fill-opacity="0.65" />
<polygon points="386.2,1086.8 402.1,1064.4 418.3,1042.1 434.7,1019.7 451.4,997.4 468.3,975.0 485.5,952.7 503.0,930.3 520.6,907.9 538.6,885.6 556.8,863.2 575.2,840.9 593.9,818.5 612.8,796.2 632.0,773.8 632.0,775.8 612.8,798.1 593.9,820.3 575.2,842.5 556.8,864.8 538.6,887.0 520.6,909.3 503.0,931.5 485.5,953.7 468.3,976.0 451.4,998.2 434.7,1020.5 418.3,1042.7 402.1,1065.0 386.2,1087.2" fill="#585066" fill-opacity="0.75" />
<polygon points="386.2,1086.3 402.1,1063.8 418.3,1041.3 434.7,1018.8 451.4,996.3 468.3,973.7 485.5,951.2 503.0,928.7 520.6,906.2 538.6,883.7 556.8,861.1 575.2,838.6 593.9,816.1 612.8,793.6 632.0,771.1 632.0,772.6 612.8,795.0 593.9,817.4 575.2,839.9 556.8,862.3 538.6,884.7 520.6,907.2 503.0,929.6 485.5,952.0 468.3,974.5 451.4,996.9 434.7,1019.3 418.3,1041.8 402.1,1064.2 386.2,1086.7" fill="#b5cfae" fill-opacity="0.6" />
<polygon points="386.2,1085.8 402.1,1063.2 418.3,1040.5 434.7,1017.8 451.4,995.2 468.3,972.5 485.5,949.8 503.0,927.2 520.6,904.5 538.6,881.8 556.8,859.1 575.2,836.5 593.9,813.8 612.8,791.1 632.0,768.5 632.0,770.0 612.8,792.5 593.9,815.1 575.2,837.7 556.8,860.3 538.6,882.9 520.6,905.5 503.0,928.1 485.5,950.6 468.3,973.2 451.4,995.8 434.7,1018.4 418.3,1041.0 402.1,1063.6 386.2,1086.2" fill="#64707a" fill-opacity="0.55" />
<line x1="130.0" y1="760.5" x2="259.5523636363636" y2="599.0" stroke="#566868" stroke-opacity="0.38" stroke-width="17"/>
<line x1="130.0" y1="771.5" x2="259.5523636363636" y2="610.0" stroke="#46294d" stroke-opacity="0.97" stroke-width="4.8"/>
<line x1="130.0" y1="766.3" x2="259.5523636363636" y2="604.8" stroke="#b9cdb4" stroke-opacity="0.75" stroke-width="1.6"/>
<line x1="130.0" y1="763.7" x2="259.5523636363636" y2="602.2" stroke="#4f5a62" stroke-opacity="0.8" stroke-width="2.0"/>
<line x1="130.0" y1="760.7" x2="259.5523636363636" y2="599.2" stroke="#a9c8a8" stroke-opacity="0.6" stroke-width="1.4"/>
<line x1="130.0" y1="758.1" x2="259.5523636363636" y2="596.6" stroke="#56706c" stroke-opacity="0.6" stroke-width="1.6"/>
<line x1="130.0" y1="754.9" x2="259.5523636363636" y2="593.4" stroke="#9cc09c" stroke-opacity="0.5" stroke-width="1.3"/>
<line x1="130.0" y1="752.3" x2="259.5523636363636" y2="590.8" stroke="#5f8076" stroke-opacity="0.45" stroke-width="1.4"/>
<line x1="632.0" y1="761.0" x2="499.46521739130435" y2="599.0" stroke="#566868" stroke-opacity="0.38" stroke-width="17"/>
<line x1="632.0" y1="772.0" x2="499.46521739130435" y2="610.0" stroke="#46294d" stroke-opacity="0.97" stroke-width="4.8"/>
<line x1="632.0" y1="766.8" x2="499.46521739130435" y2="604.8" stroke="#b9cdb4" stroke-opacity="0.75" stroke-width="1.6"/>
<line x1="632.0" y1="764.2" x2="499.46521739130435" y2="602.2" stroke="#4f5a62" stroke-opacity="0.8" stroke-width="2.0"/>
<line x1="632.0" y1="761.2" x2="499.46521739130435" y2="599.2" stroke="#a9c8a8" stroke-opacity="0.6" stroke-width="1.4"/>
<line x1="632.0" y1="758.6" x2="499.46521739130435" y2="596.6" stroke="#56706c" stroke-opacity="0.6" stroke-width="1.6"/>
<line x1="632.0" y1="755.4" x2="499.46521739130435" y2="593.4" stroke="#9cc09c" stroke-opacity="0.5" stroke-width="1.3"/>
<line x1="632.0" y1="752.8" x2="499.46521739130435" y2="590.8" stroke="#5f8076" stroke-opacity="0.45" stroke-width="1.4"/>
<polygon points="372.2,1078.5 377.2,1090.5 383.2,1090.5 388.2,1078.5" fill="#7a2f6e" fill-opacity="0.85" />
</g>
<g clip-path="url(#ce)">
<polygon points="947.1,1068.9 709.0,761.1 709.0,719.1" fill="#66c088" fill-opacity="0.8" filter="url(#bl8)"/>
<polygon points="969.8,1068.8 1210.0,758.6 1210.0,716.6" fill="#66c088" fill-opacity="0.8" filter="url(#bl8)"/>
<polygon points="709,746.5 798.5,626 760.5,626 709,698.5" fill="#66c088" fill-opacity="0.65" filter="url(#bl8)"/>
<polygon points="1210,746.5 1119.0,626 1157.0,626 1210,698.5" fill="#66c088" fill-opacity="0.65" filter="url(#bl8)"/>
<g filter="url(#bl1)">
<polygon points="958.4,1086.7 942.3,1064.4 925.9,1042.1 909.2,1019.8 892.3,997.5 875.1,975.2 857.7,952.9 840.0,930.6 822.1,908.3 803.9,886.0 785.4,863.7 766.7,841.4 747.7,819.1 728.5,796.8 709.0,774.5 709.0,783.7 728.5,805.9 747.7,828.1 766.7,850.3 785.4,872.5 803.9,894.6 822.1,916.8 840.0,939.0 857.7,961.2 875.1,983.4 892.3,1005.6 909.2,1027.7 925.9,1049.9 942.3,1072.1 958.4,1094.3" fill="#542c58" fill-opacity="0.92" />
<polygon points="958.4,1089.2 945.5,1071.5 932.4,1053.8 919.2,1036.1 905.8,1018.4 892.3,1000.8 878.6,983.1 864.7,965.4 850.6,947.7 836.4,930.0 822.1,912.3 807.5,894.6 792.8,876.9 777.9,859.2 762.9,841.5 762.9,841.6 777.9,859.5 792.8,877.4 807.5,895.3 822.1,913.2 836.4,931.1 850.6,949.0 864.7,966.9 878.6,984.8 892.3,1002.7 905.8,1020.6 919.2,1038.5 932.4,1056.4 945.5,1074.3 958.4,1092.2" fill="#cfa0c0" fill-opacity="0.9" />
<polygon points="958.4,1085.3 942.3,1062.7 925.9,1040.2 909.2,1017.6 892.3,995.0 875.1,972.5 857.7,949.9 840.0,927.4 822.1,904.8 803.9,882.2 785.4,859.7 766.7,837.1 747.7,814.5 728.5,792.0 709.0,769.4 709.0,771.8 728.5,794.3 747.7,816.8 766.7,839.3 785.4,861.7 803.9,884.2 822.1,906.7 840.0,929.2 857.7,951.6 875.1,974.1 892.3,996.6 909.2,1019.1 925.9,1041.5 942.3,1064.0 958.4,1086.5" fill="#c7c2c4" fill-opacity="0.7" />
<polygon points="958.4,1084.2 942.3,1061.4 925.9,1038.6 909.2,1015.8 892.3,993.0 875.1,970.2 857.7,947.4 840.0,924.6 822.1,901.8 803.9,879.0 785.4,856.2 766.7,833.4 747.7,810.6 728.5,787.8 709.0,765.0 709.0,768.2 728.5,790.9 747.7,813.5 766.7,836.1 785.4,858.8 803.9,881.4 822.1,904.1 840.0,926.7 857.7,949.4 875.1,972.0 892.3,994.6 909.2,1017.3 925.9,1039.9 942.3,1062.6 958.4,1085.2" fill="#684a6e" fill-opacity="0.8" />
<polygon points="958.4,1083.4 942.3,1060.4 925.9,1037.4 909.2,1014.4 892.3,991.4 875.1,968.4 857.7,945.4 840.0,922.4 822.1,899.4 803.9,876.4 785.4,853.4 766.7,830.4 747.7,807.4 728.5,784.4 709.0,761.4 709.0,763.8 728.5,786.7 747.7,809.6 766.7,832.4 785.4,855.3 803.9,878.2 822.1,901.0 840.0,923.9 857.7,946.8 875.1,969.7 892.3,992.5 909.2,1015.4 925.9,1038.3 942.3,1061.1 958.4,1084.0" fill="#b7cdb0" fill-opacity="0.65" />
<polygon points="958.4,1082.7 942.3,1059.4 925.9,1036.2 909.2,1012.9 892.3,989.7 875.1,966.4 857.7,943.2 840.0,919.9 822.1,896.7 803.9,873.4 785.4,850.2 766.7,827.0 747.7,803.7 728.5,780.5 709.0,757.2 709.0,760.0 728.5,783.1 747.7,806.2 766.7,829.3 785.4,852.3 803.9,875.4 822.1,898.5 840.0,921.6 857.7,944.7 875.1,967.7 892.3,990.8 909.2,1013.9 925.9,1037.0 942.3,1060.1 958.4,1083.2" fill="#6e647a" fill-opacity="0.65" />
<polygon points="958.4,1082.1 942.3,1058.6 925.9,1035.2 909.2,1011.7 892.3,988.2 875.1,964.8 857.7,941.3 840.0,917.8 822.1,894.3 803.9,870.9 785.4,847.4 766.7,823.9 747.7,800.5 728.5,777.0 709.0,753.5 709.0,755.7 728.5,779.1 747.7,802.4 766.7,825.7 785.4,849.1 803.9,872.4 822.1,895.8 840.0,919.1 857.7,942.5 875.1,965.8 892.3,989.1 909.2,1012.5 925.9,1035.8 942.3,1059.2 958.4,1082.5" fill="#9cc0a0" fill-opacity="0.5" />
<polygon points="958.4,1081.5 942.3,1057.9 925.9,1034.2 909.2,1010.5 892.3,986.8 875.1,963.1 857.7,939.4 840.0,915.7 822.1,892.0 803.9,868.4 785.4,844.7 766.7,821.0 747.7,797.3 728.5,773.6 709.0,749.9 709.0,752.3 728.5,775.9 747.7,799.4 766.7,822.9 785.4,846.5 803.9,870.0 822.1,893.5 840.0,917.1 857.7,940.6 875.1,964.2 892.3,987.7 909.2,1011.2 925.9,1034.8 942.3,1058.3 958.4,1081.9" fill="#74808a" fill-opacity="0.45" />
<polygon points="958.4,1086.7 974.7,1064.2 991.2,1041.7 1008.0,1019.3 1025.1,996.8 1042.4,974.3 1060.0,951.8 1077.8,929.4 1095.9,906.9 1114.3,884.4 1132.9,861.9 1151.8,839.5 1170.9,817.0 1190.3,794.5 1210.0,772.0 1210.0,781.2 1190.3,803.6 1170.9,826.0 1151.8,848.3 1132.9,870.7 1114.3,893.0 1095.9,915.4 1077.8,937.8 1060.0,960.1 1042.4,982.5 1025.1,1004.9 1008.0,1027.2 991.2,1049.6 974.7,1071.9 958.4,1094.3" fill="#542c58" fill-opacity="0.92" />
<polygon points="958.4,1089.2 971.4,1071.4 984.6,1053.5 997.9,1035.7 1011.4,1017.9 1025.1,1000.0 1038.9,982.2 1052.9,964.4 1067.1,946.5 1081.4,928.7 1095.9,910.9 1110.6,893.0 1125.4,875.2 1140.4,857.4 1155.6,839.6 1155.6,839.7 1140.4,857.7 1125.4,875.7 1110.6,893.8 1095.9,911.8 1081.4,929.8 1067.1,947.9 1052.9,965.9 1038.9,984.0 1025.1,1002.0 1011.4,1020.0 997.9,1038.1 984.6,1056.1 971.4,1074.2 958.4,1092.2" fill="#cfa0c0" fill-opacity="0.9" />
<polygon points="958.4,1085.3 974.7,1062.6 991.2,1039.8 1008.0,1017.1 1025.1,994.3 1042.4,971.6 1060.0,948.9 1077.8,926.1 1095.9,903.4 1114.3,880.6 1132.9,857.9 1151.8,835.2 1170.9,812.4 1190.3,789.7 1210.0,766.9 1210.0,769.3 1190.3,792.0 1170.9,814.6 1151.8,837.3 1132.9,860.0 1114.3,882.6 1095.9,905.3 1077.8,927.9 1060.0,950.6 1042.4,973.2 1025.1,995.9 1008.0,1018.5 991.2,1041.2 974.7,1063.8 958.4,1086.5" fill="#c7c2c4" fill-opacity="0.7" />
<polygon points="958.4,1084.2 974.7,1061.2 991.2,1038.2 1008.0,1015.3 1025.1,992.3 1042.4,969.3 1060.0,946.3 1077.8,923.4 1095.9,900.4 1114.3,877.4 1132.9,854.4 1151.8,831.5 1170.9,808.5 1190.3,785.5 1210.0,762.5 1210.0,765.7 1190.3,788.5 1170.9,811.4 1151.8,834.2 1132.9,857.0 1114.3,879.8 1095.9,902.6 1077.8,925.5 1060.0,948.3 1042.4,971.1 1025.1,993.9 1008.0,1016.7 991.2,1039.6 974.7,1062.4 958.4,1085.2" fill="#684a6e" fill-opacity="0.8" />
<polygon points="958.4,1083.4 974.7,1060.2 991.2,1037.0 1008.0,1013.9 1025.1,990.7 1042.4,967.5 1060.0,944.3 1077.8,921.2 1095.9,898.0 1114.3,874.8 1132.9,851.6 1151.8,828.5 1170.9,805.3 1190.3,782.1 1210.0,758.9 1210.0,761.3 1190.3,784.4 1170.9,807.4 1151.8,830.5 1132.9,853.5 1114.3,876.6 1095.9,899.6 1077.8,922.7 1060.0,945.7 1042.4,968.8 1025.1,991.8 1008.0,1014.9 991.2,1037.9 974.7,1061.0 958.4,1084.0" fill="#b7cdb0" fill-opacity="0.65" />
<polygon points="958.4,1082.7 974.7,1059.2 991.2,1035.8 1008.0,1012.4 1025.1,989.0 1042.4,965.5 1060.0,942.1 1077.8,918.7 1095.9,895.3 1114.3,871.8 1132.9,848.4 1151.8,825.0 1170.9,801.6 1190.3,778.2 1210.0,754.7 1210.0,757.5 1190.3,780.8 1170.9,804.0 1151.8,827.3 1132.9,850.6 1114.3,873.8 1095.9,897.1 1077.8,920.3 1060.0,943.6 1042.4,966.9 1025.1,990.1 1008.0,1013.4 991.2,1036.6 974.7,1059.9 958.4,1083.2" fill="#6e647a" fill-opacity="0.65" />
<polygon points="958.4,1082.1 974.7,1058.5 991.2,1034.8 1008.0,1011.2 1025.1,987.5 1042.4,963.9 1060.0,940.2 1077.8,916.6 1095.9,892.9 1114.3,869.3 1132.9,845.6 1151.8,822.0 1170.9,798.3 1190.3,774.7 1210.0,751.0 1210.0,753.2 1190.3,776.7 1170.9,800.3 1151.8,823.8 1132.9,847.3 1114.3,870.8 1095.9,894.3 1077.8,917.9 1060.0,941.4 1042.4,964.9 1025.1,988.4 1008.0,1011.9 991.2,1035.5 974.7,1059.0 958.4,1082.5" fill="#9cc0a0" fill-opacity="0.5" />
<polygon points="958.4,1081.5 974.7,1057.7 991.2,1033.8 1008.0,1010.0 1025.1,986.1 1042.4,962.2 1060.0,938.4 1077.8,914.5 1095.9,890.6 1114.3,866.8 1132.9,842.9 1151.8,819.0 1170.9,795.2 1190.3,771.3 1210.0,747.4 1210.0,749.8 1190.3,773.5 1170.9,797.3 1151.8,821.0 1132.9,844.7 1114.3,868.4 1095.9,892.1 1077.8,915.8 1060.0,939.6 1042.4,963.3 1025.1,987.0 1008.0,1010.7 991.2,1034.4 974.7,1058.1 958.4,1081.9" fill="#74808a" fill-opacity="0.45" />
<polygon points="709.0,768.1 839.8212996389892,605.6 839.8212996389892,614.4 709.0,776.9" fill="#4e2a54" fill-opacity="0.95" />
<polygon points="709.0,764.2 839.8212996389892,601.4 839.8212996389892,603.6 709.0,766.4" fill="#aec4a8" fill-opacity="0.6" />
<polygon points="709.0,759.2 839.8212996389892,595.8 839.8212996389892,599.2 709.0,762.4" fill="#5d4c68" fill-opacity="0.85" />
<polygon points="709.0,755.6 839.8212996389892,591.8 839.8212996389892,594.2 709.0,758.0" fill="#a4c8a0" fill-opacity="0.55" />
<polygon points="709.0,751.4 839.8212996389892,587.0 839.8212996389892,590.0 709.0,754.2" fill="#646c78" fill-opacity="0.7" />
<polygon points="709.0,747.7 839.8212996389892,583.4 839.8212996389892,585.6 709.0,749.9" fill="#a0c4a4" fill-opacity="0.55" />
<polygon points="709.0,744.1 839.8212996389892,579.2 839.8212996389892,581.8 709.0,746.5" fill="#688880" fill-opacity="0.5" />
<polygon points="709.0,740.5 839.8212996389892,575.5 839.8212996389892,577.5 709.0,742.5" fill="#9cc8a0" fill-opacity="0.4" />
<polygon points="709.0,737.0 839.8212996389892,571.9 839.8212996389892,574.1 709.0,739.0" fill="#6a9888" fill-opacity="0.35" />
<polygon points="1210.0,768.1 1077.4187725631768,605.6 1077.4187725631768,614.4 1210.0,776.9" fill="#4e2a54" fill-opacity="0.95" />
<polygon points="1210.0,764.2 1077.4187725631768,601.4 1077.4187725631768,603.6 1210.0,766.4" fill="#aec4a8" fill-opacity="0.6" />
<polygon points="1210.0,759.2 1077.4187725631768,595.8 1077.4187725631768,599.2 1210.0,762.4" fill="#5d4c68" fill-opacity="0.85" />
<polygon points="1210.0,755.6 1077.4187725631768,591.8 1077.4187725631768,594.2 1210.0,758.0" fill="#a4c8a0" fill-opacity="0.55" />
<polygon points="1210.0,751.4 1077.4187725631768,587.0 1077.4187725631768,590.0 1210.0,754.2" fill="#646c78" fill-opacity="0.7" />
<polygon points="1210.0,747.7 1077.4187725631768,583.4 1077.4187725631768,585.6 1210.0,749.9" fill="#a0c4a4" fill-opacity="0.55" />
<polygon points="1210.0,744.1 1077.4187725631768,579.2 1077.4187725631768,581.8 1210.0,746.5" fill="#688880" fill-opacity="0.5" />
<polygon points="1210.0,740.5 1077.4187725631768,575.5 1077.4187725631768,577.5 1210.0,742.5" fill="#9cc8a0" fill-opacity="0.4" />
<polygon points="1210.0,737.0 1077.4187725631768,571.9 1077.4187725631768,574.1 1210.0,739.0" fill="#6a9888" fill-opacity="0.35" />
</g>
</g>
<g clip-path="url(#cf)">
<polygon points="1534.0,1082.5 1517.8,1060.2 1501.4,1037.9 1484.7,1015.6 1467.7,993.3 1450.5,971.1 1433.1,948.8 1415.3,926.5 1397.3,904.2 1379.1,881.9 1360.6,859.6 1341.8,837.3 1322.8,815.0 1381.0,670.5 1471.0,850.5 1519.0,1020.5" fill="url(#gfh)" fill-opacity="1" filter="url(#bl8)"/>
<g mask="url(#mfw)"><g mask="url(#mff1)"><rect x="1281" y="634" width="501" height="467" fill="url(#frf)"/></g><g mask="url(#mff2)"><rect x="1281" y="634" width="501" height="467" fill="url(#frb)"/></g></g>
<polygon points="1531.0,1087.5 1514.8,1065.3 1498.4,1043.0 1481.7,1020.8 1464.7,998.6 1447.5,976.4 1430.1,954.1 1412.3,931.9 1394.3,909.7 1376.1,887.5 1357.6,865.2 1338.8,843.0 1319.8,820.8 1300.5,798.6 1281.0,776.3 1281.0,780.5 1300.5,802.9 1319.8,825.3 1338.8,847.6 1357.6,870.0 1376.1,892.3 1394.3,914.7 1412.3,937.0 1430.1,959.4 1447.5,981.7 1464.7,1004.1 1481.7,1026.4 1498.4,1048.8 1514.8,1071.1 1531.0,1093.5" fill="url(#gfl)" fill-opacity="1" />
<path d="M1531.0,1085.5 L1514.8,1063.2 L1498.4,1040.8 L1481.7,1018.5 L1464.7,996.2 L1447.5,973.9 L1430.1,951.5 L1412.3,929.2 L1394.3,906.9 L1376.1,884.6 L1357.6,862.2 L1338.8,839.9 L1319.8,817.6 L1300.5,795.3 L1281.0,772.9" fill="none" stroke="#74bd8a" stroke-opacity="0.55" stroke-width="2.4"/>
<path d="M1412.3,938.5 L1403.4,927.4 L1394.3,916.3 L1385.3,905.1 L1376.1,894.0 L1366.9,882.9 L1357.6,871.8 L1348.2,860.7 L1338.8,849.6 L1329.4,838.5 L1319.8,827.4 L1310.2,816.3 L1300.5,805.2 L1290.8,794.1 L1281.0,782.9" fill="none" stroke="#b4dc84" stroke-opacity="0.5" stroke-width="2"/>
<polygon points="1533.0,1092.5 1485.0,1028.5 1505.0,1026.5 1530.0,1064.5" fill="#6a5a92" fill-opacity="0.45" filter="url(#bl3)"/>
<line x1="1529.0" y1="1082.5" x2="1529.0" y2="995.5" stroke="#c86a3a" stroke-opacity="0.5" stroke-width="3" stroke-dasharray="3 5.7" filter="url(#bl1)"/>
<line x1="1534.0" y1="1060.5" x2="1534.0" y2="890.5" stroke="#38b4e0" stroke-opacity="0.55" stroke-width="5" stroke-dasharray="2.5 6.2" filter="url(#bl1)"/>
<line x1="1671.8" y1="634" x2="1782" y2="771.4" stroke="#68bd86" stroke-opacity="0.75" stroke-width="3.6" filter="url(#bl1)"/>
<line x1="1679" y1="634" x2="1789" y2="771.4" stroke="#aedb78" stroke-opacity="0.6" stroke-width="2.5" filter="url(#bl1)"/>
</g>
<rect x="125" y="634" width="5" height="472" fill="#000"/>
<rect x="122" y="1101" width="510" height="5" fill="#000"/>
<rect x="121" y="970.6" width="5" height="5" fill="#000"/>
<rect x="121" y="840.3" width="5" height="5" fill="#000"/>
<rect x="121" y="710.0" width="5" height="5" fill="#000"/>
<rect x="180.0" y="1101" width="5" height="7" fill="#000"/>
<text transform="translate(182.5,1147) scale(1,1.04)" x="0" y="0" text-anchor="middle" font-family="'Liberation Serif', 'Times New Roman', serif" font-size="44">-2</text>
<rect x="278.4" y="1101" width="5" height="7" fill="#000"/>
<text transform="translate(280.9,1147) scale(1,1.04)" x="0" y="0" text-anchor="middle" font-family="'Liberation Serif', 'Times New Roman', serif" font-size="44">-1</text>
<rect x="376.8" y="1101" width="5" height="7" fill="#000"/>
<text transform="translate(379.2,1147) scale(1,1.04)" x="0" y="0" text-anchor="middle" font-family="'Liberation Serif', 'Times New Roman', serif" font-size="44">0</text>
<rect x="475.1" y="1101" width="5" height="7" fill="#000"/>
<text transform="translate(477.6,1147) scale(1,1.04)" x="0" y="0" text-anchor="middle" font-family="'Liberation Serif', 'Times New Roman', serif" font-size="44">1</text>
<rect x="573.5" y="1101" width="5" height="7" fill="#000"/>
<text transform="translate(576.0,1147) scale(1,1.04)" x="0" y="0" text-anchor="middle" font-family="'Liberation Serif', 'Times New Roman', serif" font-size="44">2</text>
<text transform="translate(379.8,1182) scale(1,1.04)" x="0" y="0" text-anchor="middle" font-family="'Liberation Serif', 'Times New Roman', serif" font-size="44"><tspan font-style="italic">z</tspan> (µm)</text>
<text transform="translate(159.5,1076) scale(1,1.04)" x="0" y="0" font-family="'Liberation Serif', 'Times New Roman', serif" font-size="44">(d)</text>
<rect x="704" y="634" width="5" height="472" fill="#000"/>
<rect x="701" y="1101" width="509" height="5" fill="#000"/>
<rect x="700" y="970.6" width="5" height="5" fill="#000"/>
<rect x="700" y="840.3" width="5" height="5" fill="#000"/>
<rect x="700" y="710.0" width="5" height="5" fill="#000"/>
<rect x="759.0" y="1101" width="5" height="7" fill="#000"/>
<text transform="translate(761.5,1147) scale(1,1.04)" x="0" y="0" text-anchor="middle" font-family="'Liberation Serif', 'Times New Roman', serif" font-size="44">-2</text>
<rect x="857.4" y="1101" width="5" height="7" fill="#000"/>
<text transform="translate(859.9,1147) scale(1,1.04)" x="0" y="0" text-anchor="middle" font-family="'Liberation Serif', 'Times New Roman', serif" font-size="44">-1</text>
<rect x="955.8" y="1101" width="5" height="7" fill="#000"/>
<text transform="translate(958.2,1147) scale(1,1.04)" x="0" y="0" text-anchor="middle" font-family="'Liberation Serif', 'Times New Roman', serif" font-size="44">0</text>
<rect x="1054.1" y="1101" width="5" height="7" fill="#000"/>
<text transform="translate(1056.6,1147) scale(1,1.04)" x="0" y="0" text-anchor="middle" font-family="'Liberation Serif', 'Times New Roman', serif" font-size="44">1</text>
<rect x="1152.5" y="1101" width="5" height="7" fill="#000"/>
<text transform="translate(1155.0,1147) scale(1,1.04)" x="0" y="0" text-anchor="middle" font-family="'Liberation Serif', 'Times New Roman', serif" font-size="44">2</text>
<text transform="translate(958.8,1182) scale(1,1.04)" x="0" y="0" text-anchor="middle" font-family="'Liberation Serif', 'Times New Roman', serif" font-size="44"><tspan font-style="italic">z</tspan> (µm)</text>
<text transform="translate(738.5,1076) scale(1,1.04)" x="0" y="0" font-family="'Liberation Serif', 'Times New Roman', serif" font-size="44">(e)</text>
<rect x="1276" y="634" width="5" height="472" fill="#000"/>
<rect x="1273" y="1101" width="509" height="5" fill="#000"/>
<rect x="1272" y="970.6" width="5" height="5" fill="#000"/>
<rect x="1272" y="840.3" width="5" height="5" fill="#000"/>
<rect x="1272" y="710.0" width="5" height="5" fill="#000"/>
<rect x="1331.0" y="1101" width="5" height="7" fill="#000"/>
<text transform="translate(1333.5,1147) scale(1,1.04)" x="0" y="0" text-anchor="middle" font-family="'Liberation Serif', 'Times New Roman', serif" font-size="44">-2</text>
<rect x="1429.4" y="1101" width="5" height="7" fill="#000"/>
<text transform="translate(1431.9,1147) scale(1,1.04)" x="0" y="0" text-anchor="middle" font-family="'Liberation Serif', 'Times New Roman', serif" font-size="44">-1</text>
<rect x="1527.8" y="1101" width="5" height="7" fill="#000"/>
<text transform="translate(1530.2,1147) scale(1,1.04)" x="0" y="0" text-anchor="middle" font-family="'Liberation Serif', 'Times New Roman', serif" font-size="44">0</text>
<rect x="1626.1" y="1101" width="5" height="7" fill="#000"/>
<text transform="translate(1628.6,1147) scale(1,1.04)" x="0" y="0" text-anchor="middle" font-family="'Liberation Serif', 'Times New Roman', serif" font-size="44">1</text>
<rect x="1724.5" y="1101" width="5" height="7" fill="#000"/>
<text transform="translate(1727.0,1147) scale(1,1.04)" x="0" y="0" text-anchor="middle" font-family="'Liberation Serif', 'Times New Roman', serif" font-size="44">2</text>
<text transform="translate(1530.8,1182) scale(1,1.04)" x="0" y="0" text-anchor="middle" font-family="'Liberation Serif', 'Times New Roman', serif" font-size="44"><tspan font-style="italic">z</tspan> (µm)</text>
<text transform="translate(1314,1076) scale(1,1.04)" x="0" y="0" font-family="'Liberation Serif', 'Times New Roman', serif" font-size="44">(f)</text>
<text transform="translate(113.8,1118.6) scale(1,1.04)" x="0" y="0" text-anchor="end" font-family="'Liberation Serif', 'Times New Roman', serif" font-size="44">0</text>
<text transform="translate(113.8,988.3) scale(1,1.04)" x="0" y="0" text-anchor="end" font-family="'Liberation Serif', 'Times New Roman', serif" font-size="44">0.5</text>
<text transform="translate(115.5,858.0) scale(1,1.04)" x="0" y="0" text-anchor="end" font-family="'Liberation Serif', 'Times New Roman', serif" font-size="44">1</text>
<text transform="translate(113.8,727.7) scale(1,1.04)" x="0" y="0" text-anchor="end" font-family="'Liberation Serif', 'Times New Roman', serif" font-size="44">1.5</text>
<text transform="translate(49.8,869) rotate(-90) scale(1,1.04)" text-anchor="middle" font-family="'Liberation Serif', 'Times New Roman', serif" font-size="44"><tspan font-style="italic">t</tspan> (ns)</text>
</svg>
</body></html>
